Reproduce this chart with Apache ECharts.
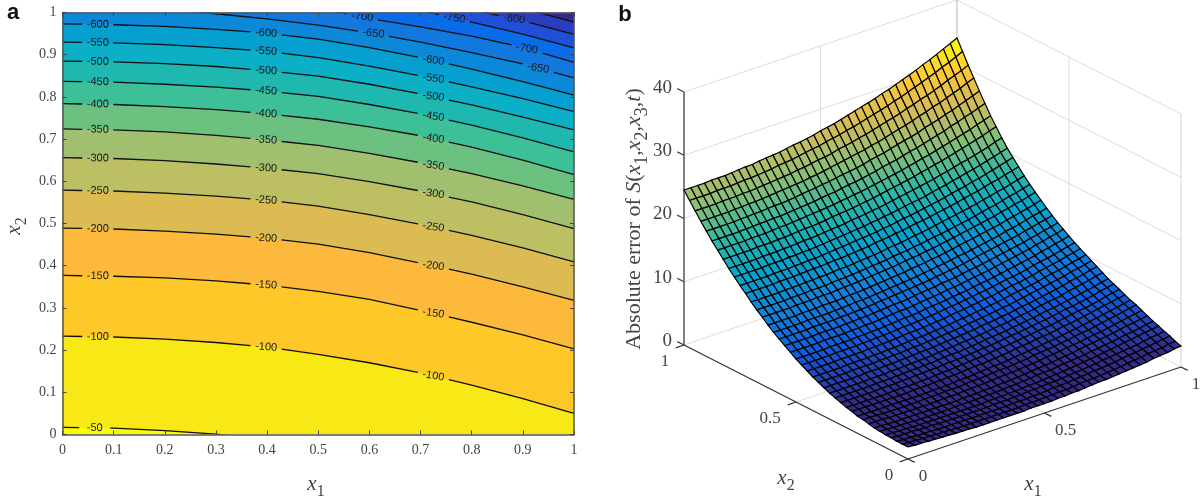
<!DOCTYPE html>
<html>
<head>
<meta charset="utf-8">
<title>contour and surface</title>
<script src="https://cdn.jsdelivr.net/npm/echarts@6/dist/echarts.min.js"></script>
<style>
  html, body { margin: 0; padding: 0; background: #fff; }
  #chart { width: 1200px; height: 497px; }
</style>
</head>
<body>
<div id="chart"></div>
<script>
// panel a: contour lines, x2 read at each x1 position
const x1Grid = [0, 0.1, 0.2, 0.3, 0.4, 0.5, 0.6, 0.7, 0.8, 0.9, 1]
const levels = [-50, -100, -150, -200, -250, -300, -350, -400, -450, -500, -550, -600, -650, -700, -750, -800, -850]
const contourX2 = [
  [0.017, 0.015, 0.009, 0.001, -0.012, -0.03, -0.05, -0.07, -0.1, -0.13, -0.16],
  [0.233, 0.231, 0.226, 0.218, 0.207, 0.19, 0.17, 0.146, 0.117, 0.085, 0.05],
  [0.377, 0.375, 0.371, 0.364, 0.354, 0.339, 0.32, 0.294, 0.266, 0.236, 0.203],
  [0.489, 0.487, 0.482, 0.475, 0.465, 0.451, 0.431, 0.406, 0.38, 0.35, 0.318],
  [0.579, 0.577, 0.572, 0.565, 0.555, 0.541, 0.521, 0.498, 0.472, 0.442, 0.409],
  [0.656, 0.654, 0.649, 0.641, 0.631, 0.618, 0.599, 0.577, 0.551, 0.521, 0.488],
  [0.724, 0.722, 0.717, 0.709, 0.698, 0.685, 0.666, 0.644, 0.618, 0.589, 0.557],
  [0.784, 0.782, 0.777, 0.77, 0.76, 0.747, 0.729, 0.708, 0.681, 0.65, 0.616],
  [0.837, 0.835, 0.83, 0.823, 0.814, 0.801, 0.782, 0.76, 0.733, 0.703, 0.67],
  [0.885, 0.883, 0.879, 0.872, 0.862, 0.849, 0.83, 0.807, 0.781, 0.752, 0.722],
  [0.93, 0.928, 0.924, 0.917, 0.908, 0.893, 0.873, 0.85, 0.824, 0.796, 0.765],
  [0.973, 0.971, 0.967, 0.96, 0.951, 0.937, 0.917, 0.893, 0.866, 0.836, 0.804],
  [1.02, 1.017, 1.008, 0.997, 0.985, 0.97, 0.952, 0.93, 0.905, 0.878, 0.845],
  [1.07, 1.068, 1.062, 1.052, 1.037, 1.01, 0.986, 0.966, 0.944, 0.917, 0.882],
  [1.11, 1.107, 1.1, 1.09, 1.075, 1.055, 1.03, 1.005, 0.977, 0.949, 0.916],
  [1.15, 1.147, 1.14, 1.13, 1.11, 1.085, 1.06, 1.033, 1.007, 0.98, 0.948],
  [1.19, 1.185, 1.175, 1.16, 1.14, 1.115, 1.09, 1.065, 1.038, 1.01, 0.977]
]
// band colours, from above -50 up to below -850
const bandColors = ['#fafb0e', '#f8e815', '#fec928', '#fdb93b', '#dcbb52', '#bcbf62', '#a0c070', '#6cc080', '#3dbf98', '#1fb8b0', '#0bafc6', '#05a0d0', '#0c88d8', '#1278de', '#0a6ce8', '#2050d8', '#2a3cc0', '#352a87']
// where the inline labels sit on their contour
const labelLevels = [
  -50, -100, -150, -200, -250, -300, -350, -400, -450, -500, -550, -600,
  -100, -150, -200, -250, -300, -350, -400, -450, -500, -550, -600,
  -100, -150, -200, -250, -300, -350, -400, -450, -500, -550, -600,
  -700, -650, -750, -800, -700, -650
]
const labelX1 = [
  0.063, 0.069, 0.069, 0.069, 0.069, 0.069, 0.069, 0.069, 0.069, 0.069, 0.069, 0.069,
  0.398, 0.398, 0.398, 0.398, 0.398, 0.398, 0.398, 0.398, 0.398, 0.398, 0.398,
  0.725, 0.725, 0.725, 0.725, 0.725, 0.725, 0.725, 0.725, 0.725, 0.725, 0.725,
  0.586, 0.608, 0.766, 0.883, 0.908, 0.93
]
// panel b: z on the 41 x 41 mesh, rows go x2 = 0..1, columns x1 = 0..1
const surfaceZ = [
  [1.9,1.8,1.8,1.7,1.7,1.6,1.6,1.5,1.5,1.5, 1.4,1.4,1.4,1.4,1.4,1.4,1.4,1.4,1.5,1.5, 1.5,1.5,1.6,1.6,1.7,1.7,1.8,1.9,2.0,2.0, 2.1,2.2,2.3,2.4,2.5,2.6,2.8,2.9,3.0,3.2, 3.3],
  [1.9,1.8,1.8,1.7,1.7,1.6,1.6,1.6,1.5,1.5, 1.5,1.5,1.5,1.5,1.5,1.5,1.5,1.5,1.6,1.6, 1.6,1.7,1.7,1.8,1.8,1.9,2.0,2.1,2.1,2.2, 2.3,2.4,2.5,2.7,2.8,2.9,3.1,3.2,3.3,3.5, 3.6],
  [1.9,1.8,1.8,1.7,1.7,1.7,1.6,1.6,1.6,1.6, 1.6,1.6,1.6,1.6,1.6,1.6,1.6,1.7,1.7,1.7, 1.8,1.8,1.9,2.0,2.0,2.1,2.2,2.3,2.4,2.5, 2.6,2.7,2.8,3.0,3.1,3.2,3.4,3.5,3.7,3.8, 4.0],
  [2.0,1.9,1.9,1.9,1.8,1.8,1.8,1.7,1.7,1.7, 1.7,1.7,1.7,1.7,1.7,1.8,1.8,1.8,1.9,1.9, 2.0,2.0,2.1,2.2,2.2,2.3,2.4,2.5,2.6,2.7, 2.8,3.0,3.1,3.2,3.4,3.5,3.6,3.8,4.0,4.1, 4.3],
  [2.0,2.0,1.9,1.9,1.8,1.8,1.8,1.8,1.8,1.8, 1.8,1.8,1.8,1.8,1.8,1.9,1.9,1.9,2.0,2.0, 2.1,2.2,2.2,2.3,2.4,2.5,2.6,2.7,2.8,3.0, 3.1,3.2,3.4,3.5,3.7,3.9,4.0,4.2,4.4,4.5, 4.7],
  [2.1,2.1,2.0,2.0,2.0,1.9,1.9,1.9,1.9,1.9, 1.9,2.0,2.0,2.0,2.0,2.1,2.1,2.1,2.2,2.3, 2.3,2.4,2.5,2.6,2.7,2.7,2.9,3.0,3.1,3.2, 3.3,3.5,3.6,3.8,3.9,4.1,4.3,4.4,4.6,4.8, 5.0],
  [2.2,2.2,2.1,2.1,2.1,2.1,2.1,2.1,2.1,2.1, 2.1,2.1,2.1,2.2,2.2,2.2,2.3,2.3,2.4,2.5, 2.5,2.6,2.7,2.8,2.9,3.0,3.1,3.3,3.4,3.5, 3.7,3.9,4.0,4.2,4.3,4.5,4.7,4.9,5.0,5.2, 5.4],
  [2.4,2.4,2.4,2.3,2.3,2.3,2.3,2.3,2.3,2.3, 2.3,2.4,2.4,2.4,2.5,2.5,2.6,2.6,2.7,2.8, 2.9,2.9,3.0,3.1,3.2,3.3,3.5,3.6,3.7,3.9, 4.0,4.1,4.3,4.5,4.6,4.8,5.0,5.2,5.4,5.6, 5.8],
  [2.6,2.6,2.6,2.5,2.5,2.5,2.5,2.5,2.5,2.6, 2.6,2.6,2.7,2.7,2.7,2.8,2.9,2.9,3.0,3.1, 3.2,3.2,3.3,3.4,3.5,3.7,3.8,3.9,4.0,4.2, 4.3,4.5,4.7,4.8,5.0,5.2,5.4,5.6,5.8,6.0, 6.2],
  [2.7,2.7,2.7,2.7,2.7,2.7,2.7,2.7,2.7,2.7, 2.7,2.8,2.8,2.8,2.9,3.0,3.0,3.1,3.2,3.3, 3.4,3.4,3.5,3.7,3.8,3.9,4.0,4.2,4.3,4.4, 4.6,4.8,4.9,5.1,5.3,5.5,5.7,5.9,6.1,6.3, 6.5],
  [3.0,3.0,3.0,3.0,3.0,3.0,3.0,3.0,3.0,3.1, 3.1,3.1,3.2,3.2,3.3,3.3,3.4,3.5,3.6,3.6, 3.7,3.8,3.9,4.0,4.2,4.3,4.4,4.6,4.7,4.8, 5.0,5.2,5.3,5.5,5.7,5.9,6.1,6.3,6.5,6.7, 6.9],
  [3.2,3.2,3.2,3.2,3.2,3.2,3.2,3.3,3.3,3.3, 3.3,3.4,3.4,3.5,3.6,3.6,3.7,3.8,3.9,4.0, 4.0,4.2,4.3,4.4,4.5,4.6,4.8,4.9,5.1,5.2, 5.3,5.5,5.7,5.9,6.1,6.2,6.4,6.6,6.9,7.1, 7.3],
  [3.5,3.5,3.5,3.5,3.5,3.5,3.6,3.6,3.6,3.7, 3.7,3.8,3.8,3.9,3.9,4.0,4.1,4.1,4.2,4.3, 4.4,4.5,4.6,4.7,4.9,5.0,5.1,5.3,5.4,5.6, 5.7,5.9,6.1,6.3,6.4,6.6,6.8,7.0,7.3,7.5, 7.7],
  [3.8,3.8,3.8,3.8,3.8,3.8,3.9,3.9,3.9,4.0, 4.0,4.1,4.1,4.2,4.2,4.3,4.4,4.5,4.5,4.6, 4.7,4.8,5.0,5.1,5.2,5.3,5.5,5.6,5.8,5.9, 6.1,6.3,6.4,6.6,6.8,7.0,7.2,7.4,7.6,7.9, 8.1],
  [4.1,4.1,4.1,4.1,4.1,4.1,4.2,4.2,4.2,4.3, 4.3,4.4,4.4,4.5,4.5,4.6,4.7,4.8,4.9,5.0, 5.1,5.2,5.3,5.4,5.6,5.7,5.8,6.0,6.2,6.3, 6.5,6.7,6.9,7.0,7.2,7.5,7.7,7.9,8.1,8.4, 8.6],
  [4.5,4.5,4.5,4.5,4.5,4.5,4.6,4.6,4.6,4.7, 4.7,4.8,4.8,4.9,5.0,5.0,5.1,5.2,5.3,5.4, 5.5,5.6,5.7,5.9,6.0,6.1,6.3,6.4,6.6,6.8, 6.9,7.1,7.3,7.5,7.7,7.9,8.2,8.4,8.6,8.9, 9.1],
  [4.9,4.9,4.9,4.9,4.9,5.0,5.0,5.0,5.0,5.1, 5.1,5.2,5.2,5.3,5.4,5.4,5.5,5.6,5.7,5.8, 5.9,6.0,6.2,6.3,6.4,6.6,6.7,6.9,7.0,7.2, 7.4,7.6,7.8,8.0,8.2,8.4,8.6,8.9,9.1,9.3, 9.6],
  [5.3,5.3,5.3,5.3,5.3,5.4,5.4,5.4,5.4,5.5, 5.5,5.6,5.6,5.7,5.8,5.9,5.9,6.0,6.1,6.2, 6.3,6.5,6.6,6.7,6.9,7.0,7.2,7.3,7.5,7.7, 7.9,8.0,8.2,8.4,8.7,8.9,9.1,9.3,9.6,9.8, 10.1],
  [5.8,5.8,5.8,5.8,5.8,5.9,5.9,5.9,5.9,6.0, 6.0,6.1,6.1,6.2,6.3,6.4,6.4,6.5,6.6,6.7, 6.8,7.0,7.1,7.2,7.4,7.5,7.7,7.8,8.0,8.2, 8.4,8.5,8.7,8.9,9.2,9.4,9.6,9.8,10.1,10.3, 10.6],
  [6.3,6.3,6.3,6.3,6.3,6.4,6.4,6.4,6.4,6.5, 6.5,6.6,6.6,6.7,6.8,6.9,6.9,7.0,7.1,7.2, 7.3,7.5,7.6,7.7,7.9,8.0,8.2,8.3,8.5,8.7, 8.9,9.0,9.2,9.4,9.7,9.9,10.1,10.3,10.6,10.8, 11.1],
  [6.8,6.8,6.8,6.8,6.8,6.9,6.9,6.9,6.9,7.0, 7.0,7.1,7.1,7.2,7.3,7.4,7.5,7.5,7.6,7.8, 7.9,8.0,8.1,8.3,8.4,8.5,8.7,8.9,9.0,9.2, 9.4,9.6,9.8,10.0,10.2,10.4,10.7,10.9,11.2,11.4, 11.7],
  [7.4,7.4,7.4,7.4,7.4,7.5,7.5,7.5,7.5,7.6, 7.6,7.7,7.7,7.8,7.9,8.0,8.1,8.1,8.2,8.4, 8.5,8.6,8.7,8.9,9.0,9.1,9.3,9.5,9.6,9.8, 10.0,10.2,10.4,10.6,10.8,11.0,11.3,11.5,11.8,12.0, 12.3],
  [8.0,8.0,8.0,8.0,8.0,8.1,8.1,8.1,8.1,8.2, 8.2,8.3,8.3,8.4,8.5,8.6,8.7,8.7,8.8,9.0, 9.1,9.2,9.3,9.5,9.6,9.7,9.9,10.1,10.2,10.4, 10.6,10.8,11.0,11.2,11.4,11.6,11.9,12.1,12.4,12.6, 12.9],
  [8.6,8.6,8.6,8.6,8.6,8.7,8.7,8.7,8.7,8.8, 8.8,8.9,8.9,9.0,9.1,9.2,9.3,9.4,9.5,9.6, 9.7,9.8,9.9,10.1,10.2,10.4,10.5,10.7,10.9,11.1, 11.3,11.5,11.7,11.9,12.1,12.3,12.6,12.8,13.1,13.3, 13.6],
  [9.2,9.2,9.2,9.2,9.2,9.3,9.3,9.3,9.3,9.4, 9.4,9.5,9.6,9.6,9.7,9.8,9.9,10.0,10.1,10.2, 10.3,10.4,10.6,10.7,10.9,11.0,11.2,11.4,11.5,11.7, 11.9,12.1,12.3,12.5,12.8,13.0,13.2,13.5,13.8,14.0, 14.3],
  [9.9,9.9,9.9,9.9,9.9,10.0,10.0,10.0,10.1,10.1, 10.1,10.2,10.3,10.3,10.4,10.5,10.6,10.7,10.8,10.9, 11.0,11.2,11.3,11.4,11.6,11.7,11.9,12.1,12.3,12.5, 12.7,12.9,13.1,13.3,13.5,13.8,14.0,14.3,14.5,14.8, 15.1],
  [10.7,10.7,10.7,10.7,10.7,10.8,10.8,10.8,10.9,10.9, 10.9,11.0,11.1,11.1,11.2,11.3,11.4,11.5,11.6,11.7, 11.8,12.0,12.1,12.2,12.4,12.5,12.7,12.9,13.1,13.3, 13.5,13.7,13.9,14.1,14.3,14.6,14.8,15.1,15.3,15.6, 15.9],
  [11.4,11.4,11.4,11.4,11.4,11.5,11.5,11.5,11.6,11.6, 11.6,11.7,11.8,11.8,11.9,12.0,12.1,12.2,12.3,12.4, 12.6,12.7,12.8,13.0,13.1,13.3,13.5,13.6,13.8,14.0, 14.2,14.4,14.6,14.9,15.1,15.3,15.6,15.9,16.1,16.4, 16.7],
  [12.2,12.2,12.2,12.2,12.2,12.3,12.3,12.3,12.4,12.4, 12.5,12.5,12.6,12.7,12.7,12.8,12.9,13.0,13.1,13.2, 13.4,13.5,13.6,13.8,14.0,14.1,14.3,14.5,14.7,14.9, 15.1,15.3,15.5,15.7,16.0,16.2,16.5,16.7,17.0,17.3, 17.6],
  [13.1,13.1,13.1,13.1,13.1,13.2,13.2,13.2,13.3,13.3, 13.4,13.4,13.5,13.6,13.6,13.7,13.8,13.9,14.0,14.2, 14.3,14.4,14.6,14.7,14.9,15.1,15.2,15.4,15.6,15.8, 16.0,16.2,16.5,16.7,16.9,17.2,17.5,17.7,18.0,18.3, 18.6],
  [13.9,13.9,13.9,13.9,13.9,14.0,14.0,14.0,14.1,14.1, 14.2,14.2,14.3,14.4,14.5,14.6,14.7,14.8,14.9,15.0, 15.1,15.3,15.4,15.6,15.8,15.9,16.1,16.3,16.5,16.7, 16.9,17.2,17.4,17.6,17.9,18.1,18.4,18.7,19.0,19.3, 19.6],
  [14.8,14.8,14.8,14.8,14.8,14.9,14.9,14.9,15.0,15.0, 15.1,15.1,15.2,15.3,15.4,15.5,15.6,15.7,15.8,15.9, 16.1,16.2,16.4,16.5,16.7,16.9,17.1,17.2,17.4,17.7, 17.9,18.1,18.4,18.6,18.9,19.1,19.4,19.7,20.0,20.3, 20.6],
  [15.7,15.7,15.7,15.7,15.7,15.8,15.8,15.8,15.9,15.9, 16.0,16.1,16.1,16.2,16.3,16.4,16.5,16.6,16.8,16.9, 17.0,17.2,17.3,17.5,17.7,17.9,18.1,18.3,18.5,18.7, 18.9,19.2,19.4,19.7,20.0,20.2,20.5,20.8,21.1,21.5, 21.8],
  [16.7,16.7,16.7,16.7,16.7,16.8,16.8,16.8,16.9,16.9, 17.0,17.1,17.2,17.2,17.3,17.4,17.6,17.7,17.8,17.9, 18.1,18.2,18.4,18.6,18.8,19.0,19.2,19.4,19.6,19.9, 20.1,20.4,20.6,20.9,21.2,21.5,21.8,22.1,22.4,22.8, 23.1],
  [17.7,17.7,17.7,17.7,17.7,17.8,17.8,17.8,17.9,18.0, 18.0,18.1,18.2,18.3,18.4,18.5,18.6,18.7,18.9,19.0, 19.2,19.3,19.5,19.7,19.9,20.1,20.3,20.5,20.8,21.0, 21.3,21.5,21.8,22.1,22.4,22.7,23.0,23.3,23.7,24.0, 24.4],
  [18.7,18.7,18.7,18.7,18.7,18.8,18.8,18.9,18.9,19.0, 19.0,19.1,19.2,19.3,19.4,19.5,19.7,19.8,19.9,20.1, 20.3,20.4,20.6,20.8,21.0,21.3,21.5,21.7,22.0,22.3, 22.5,22.8,23.1,23.4,23.7,24.1,24.4,24.8,25.1,25.5, 25.9],
  [19.8,19.8,19.8,19.8,19.8,19.9,19.9,20.0,20.0,20.1, 20.2,20.2,20.3,20.4,20.6,20.7,20.8,21.0,21.1,21.3, 21.5,21.6,21.8,22.0,22.3,22.5,22.7,23.0,23.3,23.6, 23.8,24.1,24.5,24.8,25.1,25.5,25.8,26.2,26.6,27.0, 27.4],
  [20.9,20.9,20.9,20.9,20.9,21.0,21.0,21.1,21.1,21.2, 21.3,21.4,21.5,21.6,21.7,21.8,22.0,22.1,22.3,22.5, 22.7,22.9,23.1,23.3,23.5,23.8,24.0,24.3,24.6,24.9, 25.2,25.5,25.9,26.2,26.6,26.9,27.3,27.7,28.1,28.6, 29.0],
  [22.1,22.1,22.1,22.1,22.2,22.2,22.2,22.3,22.3,22.4, 22.5,22.6,22.7,22.8,22.9,23.1,23.2,23.4,23.6,23.7, 23.9,24.2,24.4,24.6,24.9,25.1,25.4,25.7,26.0,26.3, 26.6,27.0,27.3,27.7,28.0,28.4,28.8,29.3,29.7,30.1, 30.6],
  [23.3,23.3,23.3,23.3,23.4,23.4,23.4,23.5,23.6,23.6, 23.7,23.8,23.9,24.1,24.2,24.3,24.5,24.7,24.9,25.0, 25.3,25.5,25.7,26.0,26.2,26.5,26.8,27.1,27.4,27.7, 28.1,28.4,28.8,29.2,29.6,30.0,30.4,30.9,31.3,31.8, 32.3],
  [24.5,24.5,24.5,24.5,24.6,24.6,24.6,24.7,24.8,24.9, 24.9,25.1,25.2,25.3,25.4,25.6,25.8,25.9,26.1,26.3, 26.6,26.8,27.0,27.3,27.6,27.9,28.2,28.5,28.8,29.2, 29.5,29.9,30.3,30.7,31.1,31.6,32.0,32.5,33.0,33.5, 34.0]
]
const zTicks = [0, 10, 20, 30, 40]
const x1Ticks = [0, 0.5, 1]
const x2Ticks = [0, 0.5, 1]

const parula = ['#352a87', '#0f5cdd', '#1481d6', '#06a4ca', '#2eb7a4', '#87bf77', '#d1bb59', '#fec832', '#f9fb0e']

function hexRgb(h) {
  return [parseInt(h.slice(1, 3), 16), parseInt(h.slice(3, 5), 16), parseInt(h.slice(5, 7), 16)]
}
function parulaAt(t) {
  const p = Math.max(0, Math.min(1, t)) * (parula.length - 1)
  const i = Math.min(Math.floor(p), parula.length - 2)
  const a = hexRgb(parula[i])
  const b = hexRgb(parula[i + 1])
  const f = p - i
  return `rgb(${Math.round(a[0] + (b[0] - a[0]) * f)},${Math.round(a[1] + (b[1] - a[1]) * f)},${Math.round(a[2] + (b[2] - a[2]) * f)})`
}

const serif = '"Liberation Serif", "Times New Roman", serif'
const sans = '"Liberation Sans", Arial, sans-serif'

// text helper for the custom series
function textEl(text, x, y, opt) {
  opt = opt || {}
  return {
    type: 'text',
    x: x,
    y: y,
    rotation: opt.rotation || 0,
    style: {
      text: text,
      rich: opt.rich,
      fill: opt.fill || '#444',
      font: opt.font || `15px ${serif}`,
      align: opt.align || 'center',
      verticalAlign: 'middle',
      textAlign: opt.align || 'center',
      textVerticalAlign: 'middle'
    }
  }
}

// x2 on a contour at given x1
function contourAt(row, x) {
  const i = Math.min(Math.floor(x * 10), 9)
  return row[i] + (row[i + 1] - row[i]) * (x * 10 - i)
}

function renderContours(params, api) {
  const children = []
  // filled bands, bottom one first
  for (let b = 0; b <= levels.length; b++) {
    const pts = []
    x1Grid.forEach((x, i) => {
      pts.push(api.coord([x, b === 0 ? -0.3 : contourX2[b - 1][i]]))
    })
    for (let i = x1Grid.length - 1; i >= 0; i--) {
      pts.push(api.coord([x1Grid[i], b === levels.length ? 1.3 : contourX2[b][i]]))
    }
    children.push({
      type: 'polygon',
      shape: { points: pts },
      style: { fill: bandColors[b], stroke: bandColors[b], lineWidth: 0.5 }
    })
  }
  // contour lines, cut where a label sits
  levels.forEach((lev, n) => {
    const row = contourX2[n]
    const gaps = []
    labelLevels.forEach((l, k) => {
      if (l !== lev) return
      const p0 = api.coord([labelX1[k] - 0.02, contourAt(row, labelX1[k] - 0.02)])
      const p1 = api.coord([labelX1[k] + 0.02, contourAt(row, labelX1[k] + 0.02)])
      const c = api.coord([labelX1[k], contourAt(row, labelX1[k])])
      gaps.push([c[0] - 15.5, c[0] + 15.5])
      children.push(textEl(String(l), c[0], c[1], {
        rotation: -0.65 * Math.atan2(p1[1] - p0[1], p1[0] - p0[0]),
        fill: '#1a1a1a',
        font: `11px ${sans}`
      }))
    })
    const pts = x1Grid.map((x, i) => api.coord([x, row[i]]))
    let cur = [pts[0]]
    const flush = () => {
      if (cur.length > 1) {
        children.push({
          type: 'polyline',
          shape: { points: cur },
          style: { fill: 'none', stroke: '#111', lineWidth: 1.3 }
        })
      }
    }
    for (let i = 1; i < pts.length; i++) {
      const a = pts[i - 1]
      const b = pts[i]
      const cuts = gaps.filter((g) => g[1] > a[0] && g[0] < b[0]).sort((p, q) => p[0] - q[0])
      const yAt = (px) => a[1] + ((b[1] - a[1]) * (px - a[0])) / (b[0] - a[0])
      cuts.forEach((g) => {
        if (g[0] > a[0]) cur.push([g[0], yAt(g[0])])
        flush()
        cur = g[1] < b[0] ? [[g[1], yAt(g[1])]] : []
      })
      if (cur.length > 0 || !gaps.some((g) => b[0] > g[0] && b[0] < g[1])) cur.push(b)
    }
    flush()
  })
  return { type: 'group', children: children }
}

// panel b projection, axis corners in view units
const originX = 908
const originY = 459
const x1Vec = [273, -92]
const x2Vec = [-224, -114]
const zScale = 253 / 40
// colours saturate at the dark end below this height
const zColorFloor = 3

function project(api, x1, x2, z) {
  return api.coord([
    originX + x1 * x1Vec[0] + x2 * x2Vec[0],
    originY + x1 * x1Vec[1] + x2 * x2Vec[1] - z * zScale
  ])
}

function renderSurface(params, api) {
  const children = []
  const line = (a, b, stroke, w) => {
    children.push({
      type: 'line',
      shape: { x1: a[0], y1: a[1], x2: b[0], y2: b[1] },
      style: { stroke: stroke, lineWidth: w }
    })
  }
  const wall = '#dcdcdc'
  // walls and floor
  zTicks.forEach((z) => {
    line(project(api, 0, 1, z), project(api, 1, 1, z), wall, 1)
    line(project(api, 1, 1, z), project(api, 1, 0, z), wall, 1)
  })
  line(project(api, 0.5, 1, 0), project(api, 0.5, 1, 40), wall, 1)
  line(project(api, 1, 0.5, 0), project(api, 1, 0.5, 40), wall, 1)
  line(project(api, 0.5, 0, 0), project(api, 0.5, 1, 0), wall, 1)
  line(project(api, 0, 0.5, 0), project(api, 1, 0.5, 0), wall, 1)
  line(project(api, 1, 1, 0), project(api, 1, 1, 40), '#c4c4c4', 1.3)
  line(project(api, 1, 0, 0), project(api, 1, 0, 40), '#d4d4d4', 1)

  // axes
  line(project(api, 0, 1, 0), project(api, 0, 1, 40), '#555', 1.5)
  line(project(api, 0, 0, 0), project(api, 0, 1, 0), '#333', 1.3)
  line(project(api, 0, 0, 0), project(api, 1, 0, 0), '#333', 1.3)
  zTicks.forEach((z) => {
    line(project(api, 0, 1, z), project(api, 0, 1.03, z), '#444', 1.3)
    const p = project(api, 0, 1, z)
    children.push(textEl(String(z), p[0] - 12, p[1] - 4, { align: 'right', font: `19px ${serif}`, fill: '#444' }))
  })
  x2Ticks.forEach((t) => {
    line(project(api, 0, t, 0), project(api, -0.03, t, 0), '#333', 1.3)
    const p = project(api, 0, t, 0)
    children.push(textEl(String(t), p[0] - (t === 0.5 ? 26 : 19), p[1] + 16.5, { font: `17px ${serif}`, fill: '#444' }))
  })
  x1Ticks.forEach((t) => {
    line(project(api, t, 0, 0), project(api, t, -0.03, 0), '#333', 1.3)
    const p = project(api, t, 0, 0)
    children.push(textEl(String(t), p[0] + (t === 0.5 ? 21 : 15), p[1] + 18, { font: `17px ${serif}`, fill: '#444' }))
  })

  // far corner first so that the nearer cells paint over
  const zMax = Math.max(...surfaceZ.flat())
  const n = surfaceZ.length - 1
  for (let r = n - 1; r >= 0; r--) {
    for (let c = n - 1; c >= 0; c--) {
      const z00 = surfaceZ[r][c]
      const z01 = surfaceZ[r][c + 1]
      const z11 = surfaceZ[r + 1][c + 1]
      const z10 = surfaceZ[r + 1][c]
      children.push({
        type: 'polygon',
        shape: {
          points: [
            project(api, c / n, r / n, z00),
            project(api, (c + 1) / n, r / n, z01),
            project(api, (c + 1) / n, (r + 1) / n, z11),
            project(api, c / n, (r + 1) / n, z10)
          ]
        },
        style: {
          fill: parulaAt(((z00 + z01 + z11 + z10) / 4 - zColorFloor) / (zMax - zColorFloor)),
          stroke: '#000',
          lineWidth: 1.2
        }
      })
    }
  }

  // axis names
  const subRich = {
    i: { fontFamily: serif, fontStyle: 'italic', fontSize: 21, fill: '#444' },
    n: { fontFamily: serif, fontSize: 21, fill: '#444' },
    s: { fontFamily: serif, fontSize: 16, fill: '#444', padding: [16, 0, 0, 0] }
  }
  const bigRich = {
    i: { fontFamily: serif, fontStyle: 'italic', fontSize: 22, fill: '#444' },
    n: { fontFamily: serif, fontSize: 22, fill: '#444' },
    s: { fontFamily: serif, fontSize: 18, fill: '#444', padding: [16, 0, 0, 0] }
  }
  const nameAt = (x, y) => api.coord([x, y])
  let p = nameAt(1033, 484)
  children.push(textEl('{i|x}{s|1}', p[0], p[1], { rich: subRich }))
  p = nameAt(786, 478)
  children.push(textEl('{i|x}{s|2}', p[0], p[1], { rich: subRich }))
  p = nameAt(634, 219)
  children.push(textEl('{n|Absolute error of }{i|S}{n|(}{i|x}{s|1}{n|,}{i|x}{s|2}{n|,}{i|x}{s|3}{n|,}{i|t}{n|)}', p[0], p[1], {
    rich: bigRich,
    rotation: Math.PI / 2
  }))
  // panel a axis names and panel letters
  p = nameAt(316, 484)
  children.push(textEl('{i|x}{s|1}', p[0], p[1], { rich: subRich }))
  p = nameAt(14, 226)
  children.push(textEl('{i|x}{s|2}', p[0], p[1], { rich: subRich, rotation: Math.PI / 2 }))
  p = nameAt(13, 13)
  children.push(textEl('a', p[0], p[1], { font: `bold 22px ${sans}`, fill: '#111' }))
  p = nameAt(625, 15)
  children.push(textEl('b', p[0], p[1], { font: `bold 22px ${sans}`, fill: '#111' }))
  return { type: 'group', children: children }
}

const boxAxis = {
  gridIndex: 0,
  type: 'value',
  min: 0,
  max: 1,
  interval: 0.1,
  z: 10,
  splitLine: { show: false },
  axisLine: { show: true, onZero: false, lineStyle: { color: '#555', width: 1.5 } },
  axisTick: { show: true, inside: true, length: 4, lineStyle: { color: '#444', width: 1 } }
}
const tickFont = { color: '#444', fontFamily: serif, fontSize: 14 }

const chart = echarts.init(document.getElementById('chart'), null, { renderer: 'canvas' })
chart.setOption({
  animation: false,
  backgroundColor: '#fff',
  grid: [
    { left: 62.5, top: 12.5, width: 511.5, height: 422 },
    { left: 0, top: 0, width: 1200, height: 497 }
  ],
  xAxis: [
    { ...boxAxis, position: 'bottom', axisLabel: { ...tickFont, margin: 9 } },
    { ...boxAxis, position: 'top', axisLabel: { show: false } },
    { gridIndex: 1, type: 'value', min: 0, max: 1200, show: false }
  ],
  yAxis: [
    { ...boxAxis, position: 'left', axisLabel: { ...tickFont, margin: 6 } },
    { ...boxAxis, position: 'right', axisLabel: { show: false } },
    { gridIndex: 1, type: 'value', min: 0, max: 497, inverse: true, show: false }
  ],
  series: [
    {
      type: 'custom',
      xAxisIndex: 0,
      yAxisIndex: 0,
      clip: true,
      silent: true,
      data: [[0, 0]],
      renderItem: renderContours
    },
    {
      type: 'custom',
      xAxisIndex: 2,
      yAxisIndex: 2,
      silent: true,
      data: [[0, 0]],
      renderItem: renderSurface
    }
  ]
})
</script>
</body>
</html>
